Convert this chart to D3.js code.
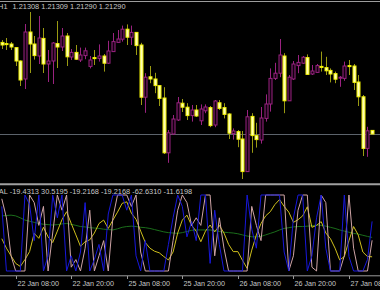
<!DOCTYPE html>
<html><head><meta charset="utf-8">
<script src="https://cdn.jsdelivr.net/npm/d3@7"></script>
<style>
html,body{margin:0;padding:0;background:#000;overflow:hidden}
svg{display:block}
text{font-family:"Liberation Sans",Arial,sans-serif;fill:#c8c8c8}
</style></head>
<body>
<script>
// ---- price data (H1 candles, 22 Jan 05:00 .. 27 Jan 08:00) ----
const openP = [1.21748,1.21742,1.21740,1.21722,1.21655,1.21565,1.21800,1.21740,1.21680,1.21768,
1.21640,1.21655,1.21742,1.21725,1.21780,1.21675,1.21698,1.21660,1.21682,1.21628,
1.21672,1.21668,1.21680,1.21644,1.21702,1.21748,1.21764,1.21814,1.21774,1.21798,
1.21735,1.21474,1.21576,1.21565,1.21532,1.21470,1.21196,1.21290,1.21360,1.21444,
1.21424,1.21382,1.21410,1.21356,1.21406,1.21422,1.21335,1.21446,1.21422,1.21390,
1.21292,1.21302,1.21265,1.21102,1.21378,1.21282,1.21260,1.21368,1.21440,1.21568,
1.21594,1.21680,1.21456,1.21565,1.21632,1.21644,1.21672,1.21590,1.21598,1.21628,
1.21622,1.21608,1.21592,1.21570,1.21568,1.21632,1.21630,1.21550,1.21476,1.21218,1.21308];
const highP = [1.21760,1.21770,1.21750,1.21725,1.21658,1.21840,1.21900,1.21780,1.21880,1.21820,
1.21710,1.21750,1.21855,1.21820,1.21795,1.21715,1.21735,1.21722,1.21722,1.21680,
1.21710,1.21738,1.21690,1.21756,1.21795,1.21810,1.21832,1.21838,1.21832,1.21799,
1.21746,1.21594,1.21630,1.21596,1.21535,1.21524,1.21310,1.21385,1.21475,1.21465,
1.21444,1.21435,1.21435,1.21438,1.21438,1.21430,1.21460,1.21460,1.21444,1.21394,
1.21318,1.21310,1.21305,1.21410,1.21394,1.21346,1.21425,1.21488,1.21618,1.21646,
1.21765,1.21694,1.21585,1.21655,1.21685,1.21680,1.21688,1.21635,1.21640,1.21702,
1.21676,1.21618,1.21602,1.21580,1.21652,1.21660,1.21640,1.21585,1.21485,1.21326,1.21309];
const lowP = [1.21715,1.21710,1.21710,1.21630,1.21530,1.21515,1.21595,1.21662,1.21640,1.21595,
1.21550,1.21540,1.21620,1.21705,1.21630,1.21660,1.21660,1.21650,1.21664,1.21618,
1.21635,1.21652,1.21602,1.21640,1.21700,1.21745,1.21752,1.21735,1.21735,1.21685,
1.21435,1.21396,1.21544,1.21494,1.21430,1.21190,1.21146,1.21285,1.21355,1.21400,
1.21360,1.21352,1.21375,1.21335,1.21394,1.21324,1.21324,1.21410,1.21368,1.21265,
1.21262,1.21224,1.21065,1.21100,1.21196,1.21222,1.21242,1.21352,1.21402,1.21560,
1.21574,1.21394,1.21455,1.21560,1.21594,1.21640,1.21585,1.21585,1.21595,1.21602,
1.21585,1.21548,1.21544,1.21526,1.21556,1.21585,1.21510,1.21430,1.21180,1.21176,1.21290];
const closeP = [1.21735,1.21740,1.21725,1.21655,1.21560,1.21800,1.21740,1.21682,1.21770,1.21640,
1.21655,1.21745,1.21725,1.21780,1.21676,1.21698,1.21664,1.21685,1.21706,1.21660,
1.21668,1.21680,1.21644,1.21705,1.21752,1.21765,1.21814,1.21774,1.21798,1.21732,
1.21474,1.21574,1.21565,1.21532,1.21468,1.21196,1.21296,1.21365,1.21446,1.21424,
1.21382,1.21410,1.21380,1.21415,1.21425,1.21332,1.21455,1.21418,1.21388,1.21294,
1.21305,1.21264,1.21102,1.21376,1.21282,1.21262,1.21370,1.21440,1.21568,1.21594,
1.21685,1.21456,1.21574,1.21640,1.21648,1.21674,1.21588,1.21605,1.21632,1.21625,
1.21606,1.21590,1.21564,1.21574,1.21630,1.21628,1.21548,1.21476,1.21218,1.21306,1.21290];
const bidPrice = 1.21290;

// ---- indicator series (scale -100..100) ----
const blueS = [70,-100,-100,-100,-100,100,75,-20,100,-100,
-60,100,40,100,-100,-60,-100,-50,80,-100,
-70,-30,-100,50,100,100,100,60,100,-60,
-100,-20,-100,-100,-100,-100,-30,40,100,70,
-10,30,-20,100,100,-80,60,-30,-100,-100,
-100,-100,-100,100,10,-40,100,100,100,100,
100,-50,-100,40,100,100,-100,-60,40,100,
-40,-100,-100,-100,100,-62,-100,-100,-100,-70,30.5195];
const pinkS = [90,40,-60,-100,-100,-100,100,80,20,70,
-100,0,100,60,100,-90,-70,-100,-40,60,
-100,-60,-20,-100,40,100,100,100,70,100,
-50,-100,-100,-100,-100,-100,-100,-20,60,100,
80,20,40,20,100,100,-60,40,-40,-100,
-100,-100,-100,-100,70,20,-20,100,100,100,
100,100,-100,-60,60,100,100,-90,-100,100,
80,-100,-100,-100,-60,100,-40,-100,-100,-100,-19.2168];
const yellowS = [-15,-40,-60,-80,-88,-70,-49,-1,-14,15,
-10,-25,5,35,56,25,-5,-35,-23,-18,
0,25,34,12,34,55,78,82,52,36,
5,-25,-40,-48,-52,-62,-71,-50,0,34,
47,20,5,-23,5,21,3,20,0,-30,
-49,-49,-72,-93,-45,-5,25,45,56,75,
88,70,55,28,35,45,69,15,20,30,
0,-15,-40,-71,-62,-20,17,-5,-50,-62,-62.631];
const greenS = [45,46,47,45,40,34,31,28,25,23,
22,21,22,24,25,23,20,17,16,14,
13,12,10,9,8,11,15,17,18,17,
15,14,12,9,6,3,1,0,-1,1,
4,7,8,8,8,8,6,4,2,1,
0,-2,-5,-8,-10,-10,-9,-5,-1,3,
8,12,14,16,17,17,18,19,21,20,
18,15,12,8,5,2,-1,-3,-6,-9,-11.6198];

// ---- texts ----
const headerMain = ["H1", "1.21308 1.21309 1.21290 1.21290"];
const headerInd = ["AL", "-19.4313 30.5195 -19.2168 -19.2168 -62.6310 -11.6198"];
const tickBars = [3, 15, 27, 39, 51, 63, 75];
const tickLabels = ["22 Jan 08:00","22 Jan 20:00","25 Jan 08:00","25 Jan 20:00","26 Jan 08:00","26 Jan 20:00","27 Jan 08:00"];

const W = 380, H = 290;
const svg = d3.select("body").append("svg").attr("width", W).attr("height", H)
  .style("background", "#000");

const n = closeP.length;
const idx = closeP.map((d, i) => i);
const x = d3.scaleLinear().domain([0, n - 1]).range([1.8, 372.1]);
const y = d3.scaleLinear().domain([1.21045, 1.21950]).range([183, 2]);
const yi = d3.scaleLinear().domain([-100, 100]).range([271, 195]);

const defs = svg.append("defs");
defs.append("clipPath").attr("id", "cMain").append("rect").attr("x", 0).attr("y", 2).attr("width", W).attr("height", 181);
defs.append("clipPath").attr("id", "cInd").append("rect").attr("x", 0).attr("y", 186).attr("width", W).attr("height", 89);

// frame lines
svg.append("line").attr("x1", 0).attr("x2", W).attr("y1", 1.5).attr("y2", 1.5).attr("stroke", "#9c9c9c").attr("stroke-width", 1.2);
svg.append("line").attr("x1", 0).attr("x2", W).attr("y1", 184.3).attr("y2", 184.3).attr("stroke", "#a0a0a0").attr("stroke-width", 2);
svg.append("line").attr("x1", 0).attr("x2", W).attr("y1", 275.8).attr("y2", 275.8).attr("stroke", "#9a9a9a").attr("stroke-width", 1);

// main panel
const gMain = svg.append("g").attr("clip-path", "url(#cMain)");
gMain.append("line").attr("x1", 0).attr("x2", W)
  .attr("y1", Math.round(y(bidPrice)) + 0.5).attr("y2", Math.round(y(bidPrice)) + 0.5)
  .attr("stroke", "#5c636b").attr("stroke-width", 1);

const bullC = "#9a2280", bearC = "#f2f200", bearFill = "#ffffb8", bearWick = "#9a9a12";
const cg = gMain.selectAll("g.c").data(idx).join("g").attr("class", "c");
cg.append("line")
  .attr("x1", i => Math.round(x(i)) + 0.5).attr("x2", i => Math.round(x(i)) + 0.5)
  .attr("y1", i => y(highP[i])).attr("y2", i => y(lowP[i]))
  .attr("stroke", i => closeP[i] > openP[i] ? bullC : bearWick).attr("stroke-width", 1);
cg.append("rect")
  .attr("x", i => Math.round(x(i)) - 1)
  .attr("width", 3)
  .attr("y", i => y(Math.max(openP[i], closeP[i])))
  .attr("height", i => Math.max(1, Math.abs(y(openP[i]) - y(closeP[i]))))
  .attr("fill", i => closeP[i] > openP[i] ? "#120010" : bearFill)
  .attr("stroke", i => closeP[i] > openP[i] ? bullC : bearC)
  .attr("stroke-width", 1);

svg.append("text").attr("x", 7.5).attr("y", 9.3).attr("text-anchor", "end").attr("font-size", 7.4).text(headerMain[0]);
svg.append("text").attr("x", 12.5).attr("y", 9.3).attr("font-size", 7.4).text(headerMain[1]);

// indicator panel
const gInd = svg.append("g").attr("clip-path", "url(#cInd)");
const line = s => d3.line().x((d, i) => x(i)).y(d => yi(d))(s);
[[greenS, "#1b6e1b"], [yellowS, "#d0c01c"], [pinkS, "#cfa4a6"], [blueS, "#1818dc"]].forEach(([s, c]) => {
  gInd.append("path").attr("d", line(s)).attr("fill", "none").attr("stroke", c).attr("stroke-width", 1);
});

svg.append("text").attr("x", 7.8).attr("y", 194.3).attr("text-anchor", "end").attr("font-size", 7.4).text(headerInd[0]);
svg.append("text").attr("x", 9.8).attr("y", 194.3).attr("font-size", 7.4).text(headerInd[1]);

// time axis
tickBars.forEach((b, k) => {
  const tx = Math.round(x(b)) + 0.5;
  svg.append("line").attr("x1", tx).attr("x2", tx).attr("y1", 276).attr("y2", 279).attr("stroke", "#9a9a9a");
  svg.append("text").attr("x", tx + 1).attr("y", 285.8).attr("font-size", 7.2).text(tickLabels[k]);
});
</script>
</body></html>
